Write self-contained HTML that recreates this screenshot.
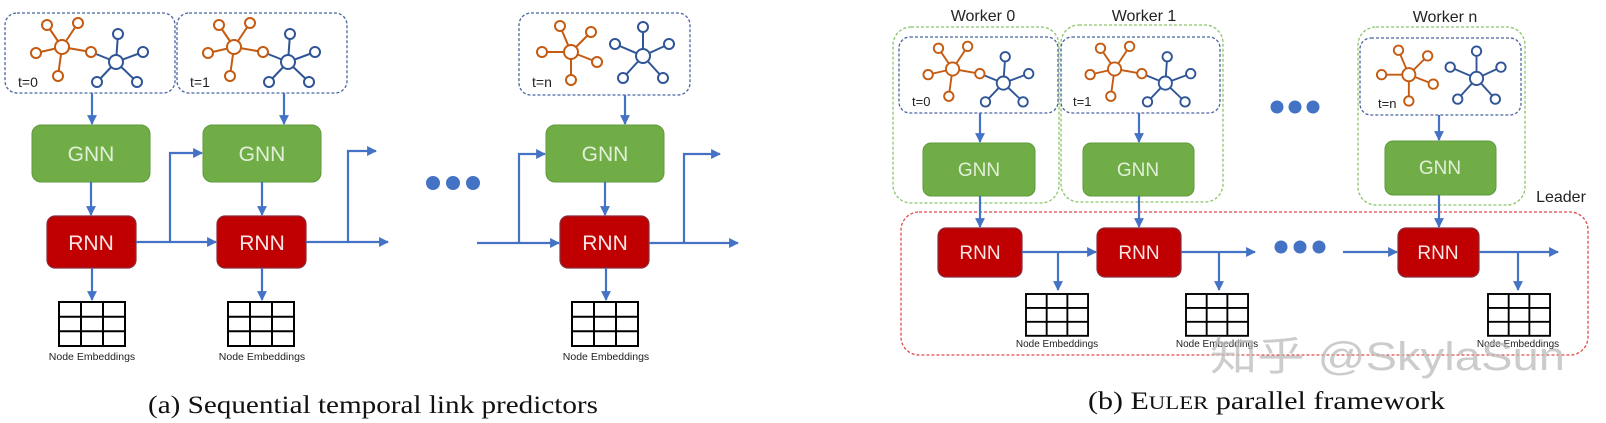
<!DOCTYPE html>
<html><head><meta charset="utf-8"><style>
html,body{margin:0;padding:0;background:#fff;}
svg{display:block;}
text{font-family:"Liberation Sans",sans-serif;}
</style></head><body>
<svg width="1606" height="423" viewBox="0 0 1606 423" xmlns="http://www.w3.org/2000/svg">
<defs>
<marker id="ah" viewBox="0 0 10 10" refX="9" refY="5" markerWidth="4.5" markerHeight="4.5" orient="auto"><path d="M0,0 L10,5 L0,10 z" fill="#4472c4"/></marker>
<g id="g0">
 <g stroke="#c55a11" stroke-width="2" fill="#fff">
  <line x1="62" y1="47" x2="47" y2="25"/><line x1="62" y1="47" x2="78" y2="23"/><line x1="62" y1="47" x2="36" y2="53"/><line x1="62" y1="47" x2="58" y2="76"/><line x1="62" y1="47" x2="91" y2="52"/>
  <circle cx="62" cy="47" r="7"/><circle cx="47" cy="25" r="5"/><circle cx="78" cy="23" r="5"/><circle cx="36" cy="53" r="5"/><circle cx="58" cy="76" r="5"/>
 </g>
 <g stroke="#2f5597" stroke-width="2" fill="#fff">
  <line x1="116" y1="62" x2="91" y2="52"/><line x1="116" y1="62" x2="118" y2="34"/><line x1="116" y1="62" x2="143" y2="52"/><line x1="116" y1="62" x2="97" y2="82"/><line x1="116" y1="62" x2="137" y2="82"/>
  <circle cx="116" cy="62" r="7"/><circle cx="118" cy="34" r="5"/><circle cx="143" cy="52" r="5"/><circle cx="97" cy="82" r="5"/><circle cx="137" cy="82" r="5"/>
 </g>
 <circle cx="91" cy="52" r="5" stroke="#c55a11" stroke-width="2" fill="#fff"/>
</g>
<g id="gn">
 <g stroke="#c55a11" stroke-width="2" fill="#fff">
  <line x1="571" y1="52" x2="560" y2="26"/><line x1="571" y1="52" x2="591" y2="32"/><line x1="571" y1="52" x2="542" y2="52"/><line x1="571" y1="52" x2="597" y2="62"/><line x1="571" y1="52" x2="571" y2="80"/>
  <circle cx="571" cy="52" r="7"/><circle cx="560" cy="26" r="5"/><circle cx="591" cy="32" r="5"/><circle cx="542" cy="52" r="5"/><circle cx="597" cy="62" r="5"/><circle cx="571" cy="80" r="5"/>
 </g>
 <g stroke="#2f5597" stroke-width="2" fill="#fff">
  <line x1="643" y1="56" x2="643" y2="27"/><line x1="643" y1="56" x2="669" y2="44"/><line x1="643" y1="56" x2="615" y2="44"/><line x1="643" y1="56" x2="623" y2="78"/><line x1="643" y1="56" x2="663" y2="78"/>
  <circle cx="643" cy="56" r="7"/><circle cx="643" cy="27" r="5"/><circle cx="669" cy="44" r="5"/><circle cx="615" cy="44" r="5"/><circle cx="623" cy="78" r="5"/><circle cx="663" cy="78" r="5"/>
 </g>
</g>
<g id="grid" stroke="#000" stroke-width="2" fill="none">
 <rect x="0" y="0" width="66" height="44"/><line x1="22" y1="0" x2="22" y2="44"/><line x1="44" y1="0" x2="44" y2="44"/><line x1="0" y1="14.7" x2="66" y2="14.7"/><line x1="0" y1="29.3" x2="66" y2="29.3"/>
</g>
</defs>

<g fill="none" stroke="#4a64a0" stroke-width="1.3" stroke-dasharray="3,2">
 <rect x="5" y="13" width="170" height="80" rx="12"/>
 <rect x="177" y="13" width="170" height="80" rx="12"/>
 <rect x="519" y="13" width="171" height="82" rx="12"/>
</g>
<use href="#g0"/>
<use href="#g0" transform="translate(172,0)"/>
<use href="#gn"/>
<g font-size="14" fill="#222"><text x="18" y="87">t=0</text><text x="190" y="87">t=1</text><text x="532" y="87">t=n</text></g>

<g fill="#70ad47" stroke="#5f9a3c" stroke-width="1">
 <rect x="32" y="125" width="118" height="57" rx="9"/>
 <rect x="203" y="125" width="118" height="57" rx="9"/>
 <rect x="546" y="125" width="118" height="57" rx="9"/>
</g>
<g fill="#c00000" stroke="#8a2b3a" stroke-width="1.2">
 <rect x="47" y="216" width="89" height="52" rx="8"/>
 <rect x="217" y="216" width="89" height="52" rx="8"/>
 <rect x="560" y="216" width="89" height="52" rx="8"/>
</g>
<g font-size="21" fill="#e2f0d9" text-anchor="middle">
 <text x="91" y="161">GNN</text><text x="262" y="161">GNN</text><text x="605" y="161">GNN</text>
</g>
<g font-size="21" fill="#fbe5e5" text-anchor="middle">
 <text x="91" y="250">RNN</text><text x="262" y="250">RNN</text><text x="605" y="250">RNN</text>
</g>

<g stroke="#4472c4" stroke-width="2.2" fill="none">
 <line x1="92" y1="93" x2="92" y2="124" marker-end="url(#ah)"/>
 <line x1="91" y1="182" x2="91" y2="215" marker-end="url(#ah)"/>
 <line x1="92" y1="268" x2="92" y2="300" marker-end="url(#ah)"/>
 <line x1="284" y1="93" x2="284" y2="124" marker-end="url(#ah)"/>
 <line x1="262" y1="182" x2="262" y2="215" marker-end="url(#ah)"/>
 <line x1="262" y1="268" x2="262" y2="300" marker-end="url(#ah)"/>
 <line x1="625" y1="95" x2="625" y2="124" marker-end="url(#ah)"/>
 <line x1="605" y1="182" x2="605" y2="215" marker-end="url(#ah)"/>
 <line x1="606" y1="268" x2="606" y2="300" marker-end="url(#ah)"/>
 <line x1="136" y1="242" x2="216" y2="242" marker-end="url(#ah)"/>
 <polyline points="170,242 170,153 202,153" marker-end="url(#ah)"/>
 <line x1="306" y1="242" x2="388" y2="242" marker-end="url(#ah)"/>
 <polyline points="348,242 348,151 376,151" marker-end="url(#ah)"/>
 <line x1="477" y1="243" x2="559" y2="243" marker-end="url(#ah)"/>
 <polyline points="519,243 519,154 545,154" marker-end="url(#ah)"/>
 <line x1="649" y1="243" x2="738" y2="243" marker-end="url(#ah)"/>
 <polyline points="684,243 684,154 720,154" marker-end="url(#ah)"/>
</g>
<g fill="#4472c4"><circle cx="433" cy="183" r="7"/><circle cx="453" cy="183" r="7"/><circle cx="473" cy="183" r="7"/></g>
<use href="#grid" transform="translate(59,302)"/>
<use href="#grid" transform="translate(228,302)"/>
<use href="#grid" transform="translate(572,302)"/>
<g font-size="10.5" fill="#222" text-anchor="middle"><text x="92" y="360">Node Embeddings</text><text x="262" y="360">Node Embeddings</text><text x="606" y="360">Node Embeddings</text></g>
<text x="148" y="413" font-size="25" textLength="450" lengthAdjust="spacingAndGlyphs" fill="#111" style="font-family:'Liberation Serif',serif">(a) Sequential temporal link predictors</text>

<g font-size="16" fill="#222" text-anchor="middle"><text x="983" y="21">Worker 0</text><text x="1144" y="21">Worker 1</text><text x="1445" y="22">Worker n</text><text x="1561" y="202">Leader</text></g>
<g fill="none" stroke="#8cc46a" stroke-width="1.3" stroke-dasharray="3,2">
 <rect x="893" y="27" width="166" height="176" rx="18"/>
 <rect x="1061" y="25" width="162" height="177" rx="18"/>
 <rect x="1358" y="27" width="167" height="178" rx="18"/>
</g>
<rect x="901" y="212" width="687" height="143" rx="18" fill="none" stroke="#e04a4a" stroke-width="1.3" stroke-dasharray="3,2"/>
<g fill="none" stroke="#4a64a0" stroke-width="1.3" stroke-dasharray="3,2">
 <rect x="899" y="37" width="159" height="76" rx="11"/>
 <rect x="1061" y="37" width="159" height="76" rx="11"/>
 <rect x="1360" y="38" width="161" height="77" rx="11"/>
</g>
<use href="#g0" transform="translate(894.3,24.8) scale(0.94)"/>
<use href="#g0" transform="translate(1056.3,24.8) scale(0.94)"/>
<use href="#gn" transform="translate(872.1,25.8) scale(0.94)"/>
<g font-size="13" fill="#222"><text x="912" y="106">t=0</text><text x="1073" y="106">t=1</text><text x="1378" y="108">t=n</text></g>
<g fill="#70ad47" stroke="#5f9a3c" stroke-width="1">
 <rect x="923" y="143" width="112" height="53" rx="8"/>
 <rect x="1083" y="143" width="111" height="53" rx="8"/>
 <rect x="1385" y="141" width="111" height="54" rx="8"/>
</g>
<g fill="#c00000" stroke="#8a2b3a" stroke-width="1.2">
 <rect x="938" y="228" width="84" height="49" rx="8"/>
 <rect x="1097" y="228" width="84" height="49" rx="8"/>
 <rect x="1398" y="228" width="81" height="49" rx="8"/>
</g>
<g font-size="19" fill="#e2f0d9" text-anchor="middle"><text x="979" y="176">GNN</text><text x="1138" y="176">GNN</text><text x="1440" y="174">GNN</text></g>
<g font-size="19" fill="#fbe5e5" text-anchor="middle"><text x="980" y="259">RNN</text><text x="1139" y="259">RNN</text><text x="1438" y="259">RNN</text></g>
<g stroke="#4472c4" stroke-width="2.2" fill="none">
 <line x1="980" y1="113" x2="980" y2="142" marker-end="url(#ah)"/>
 <line x1="980" y1="196" x2="980" y2="227" marker-end="url(#ah)"/>
 <line x1="1139" y1="113" x2="1139" y2="142" marker-end="url(#ah)"/>
 <line x1="1139" y1="196" x2="1139" y2="227" marker-end="url(#ah)"/>
 <line x1="1439" y1="115" x2="1439" y2="140" marker-end="url(#ah)"/>
 <line x1="1439" y1="195" x2="1439" y2="227" marker-end="url(#ah)"/>
 <line x1="1022" y1="252" x2="1096" y2="252" marker-end="url(#ah)"/>
 <line x1="1058" y1="252" x2="1058" y2="290" marker-end="url(#ah)"/>
 <line x1="1181" y1="252" x2="1255" y2="252" marker-end="url(#ah)"/>
 <line x1="1219" y1="252" x2="1219" y2="290" marker-end="url(#ah)"/>
 <line x1="1343" y1="252" x2="1397" y2="252" marker-end="url(#ah)"/>
 <line x1="1479" y1="252" x2="1558" y2="252" marker-end="url(#ah)"/>
 <line x1="1518" y1="252" x2="1518" y2="290" marker-end="url(#ah)"/>
</g>
<g fill="#4472c4">
 <circle cx="1277" cy="107" r="6.5"/><circle cx="1295" cy="107" r="6.5"/><circle cx="1313" cy="107" r="6.5"/>
 <circle cx="1281" cy="247" r="6.5"/><circle cx="1300" cy="247" r="6.5"/><circle cx="1319" cy="247" r="6.5"/>
</g>
<use href="#grid" transform="translate(1026,294) scale(0.94,0.95)"/>
<use href="#grid" transform="translate(1186,294) scale(0.94,0.95)"/>
<use href="#grid" transform="translate(1488,294) scale(0.94,0.95)"/>
<g font-size="10" fill="#222" text-anchor="middle"><text x="1057" y="347">Node Embeddings</text><text x="1217" y="347">Node Embeddings</text><text x="1518" y="347">Node Embeddings</text></g>
<text x="1088" y="409" font-size="25" textLength="357" lengthAdjust="spacingAndGlyphs" fill="#111" style="font-family:'Liberation Serif',serif">(b) E<tspan font-size="19">ULER</tspan> parallel framework</text>
<text x="1210" y="370" font-size="40" fill="#bbb" fill-opacity="0.75" textLength="355" lengthAdjust="spacingAndGlyphs" style="font-family:'Liberation Sans','Noto Sans CJK SC',sans-serif">知乎 @SkylaSun</text>
</svg>
</body></html>
